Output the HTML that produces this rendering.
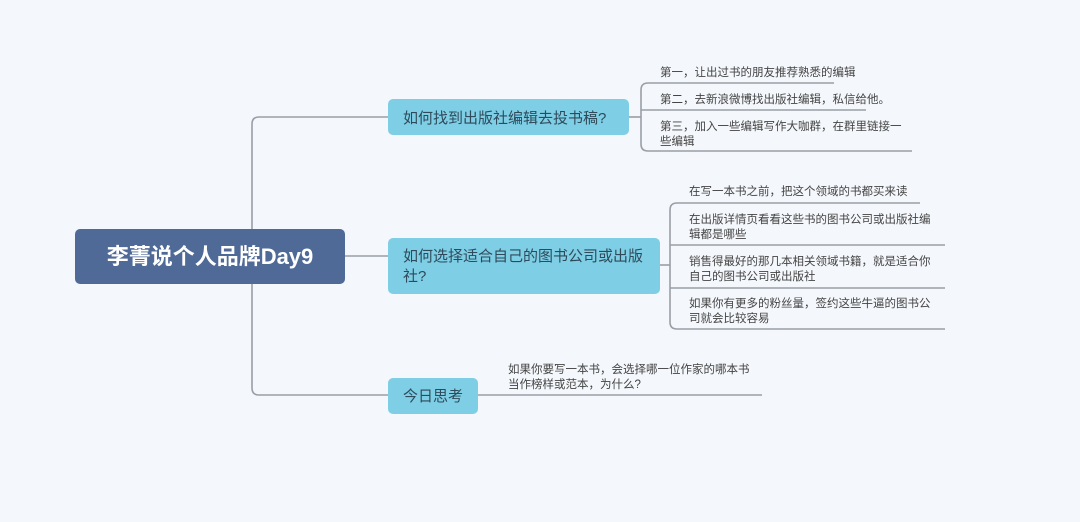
<!DOCTYPE html>
<html><head><meta charset="utf-8"><style>
html,body{margin:0;padding:0;background:#f4f7fb;}
svg{display:block}
text{font-family:"Liberation Sans","Noto Sans CJK SC",sans-serif;}
.l{font-size:11.5px;fill:#444}
.n{font-size:15px;fill:#2f4a5a}
</style></head><body>
<svg width="1080" height="522" viewBox="0 0 1080 522">
<rect width="1080" height="522" fill="#f4f7fb"/>
<g fill="none" stroke="#9a9ea6" stroke-width="1.6">
<path d="M345 256 H388"/>
<path d="M388 117 H259 Q252 117 252 124 V388 Q252 395 259 395 H388"/>
<path d="M629 117 H641"/>
<path d="M834 83 H648 Q641 83 641 90 V144 Q641 151 648 151 H912"/>
<path d="M641 110 H866"/>
<path d="M660 265 H670"/>
<path d="M920 203 H677 Q670 203 670 210 V322 Q670 329 677 329 H945"/>
<path d="M670 245 H945"/>
<path d="M670 288 H945"/>
<path d="M478 395 H762"/>
</g>
<rect x="75" y="229" width="270" height="55" rx="5" fill="#4f6a97"/>
<text x="210" y="264" text-anchor="middle" font-size="22" font-weight="bold" fill="#fff">李菁说个人品牌Day9</text>
<rect x="388" y="99" width="241" height="36" rx="5" fill="#7ecfe6"/>
<text class="n" x="403" y="123">如何找到出版社编辑去投书稿?</text>
<rect x="388" y="238" width="272" height="56" rx="5" fill="#7ecfe6"/>
<text class="n" x="403" y="261">如何选择适合自己的图书公司或出版</text>
<text class="n" x="403" y="281">社?</text>
<rect x="388" y="378" width="90" height="36" rx="5" fill="#7ecfe6"/>
<text class="n" x="403" y="401">今日思考</text>
<text class="l" x="660" y="76">第一，让出过书的朋友推荐熟悉的编辑</text>
<text class="l" x="660" y="103">第二，去新浪微博找出版社编辑，私信给他。</text>
<text class="l" x="660" y="130">第三，加入一些编辑写作大咖群，在群里链接一</text>
<text class="l" x="660" y="145">些编辑</text>
<text class="l" x="689" y="195">在写一本书之前，把这个领域的书都买来读</text>
<text class="l" x="689" y="223">在出版详情页看看这些书的图书公司或出版社编</text>
<text class="l" x="689" y="238">辑都是哪些</text>
<text class="l" x="689" y="265">销售得最好的那几本相关领域书籍，就是适合你</text>
<text class="l" x="689" y="280">自己的图书公司或出版社</text>
<text class="l" x="689" y="307">如果你有更多的粉丝量，签约这些牛逼的图书公</text>
<text class="l" x="689" y="322">司就会比较容易</text>
<text class="l" x="508" y="373">如果你要写一本书，会选择哪一位作家的哪本书</text>
<text class="l" x="508" y="388">当作榜样或范本，为什么?</text>
</svg>
</body></html>
